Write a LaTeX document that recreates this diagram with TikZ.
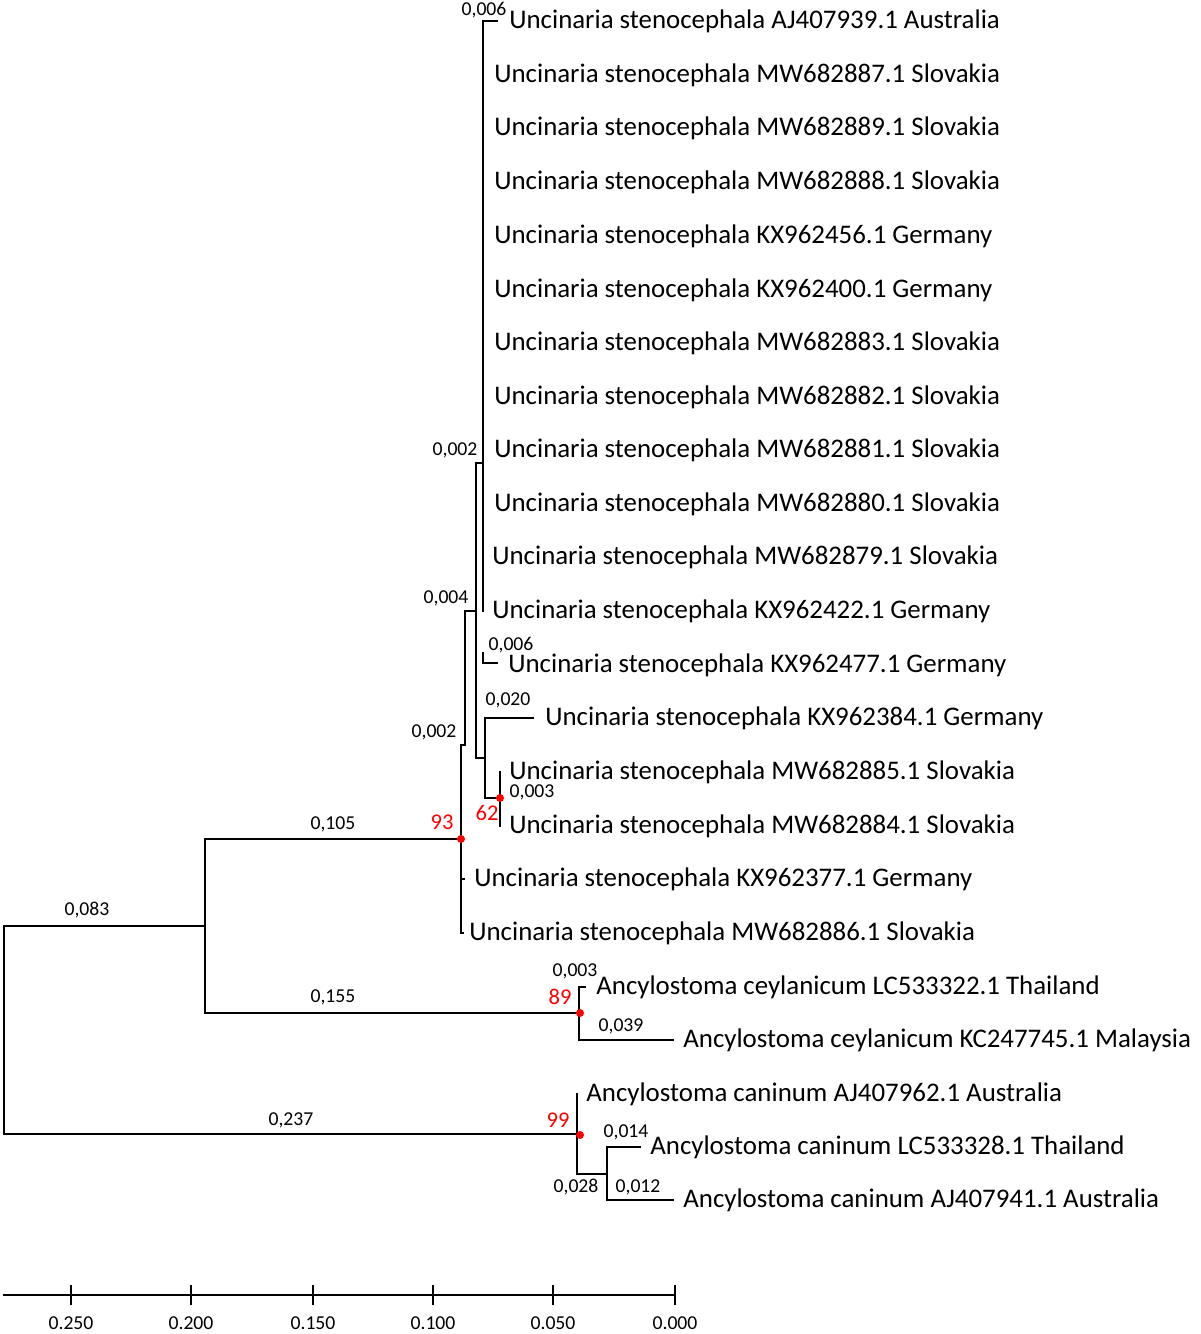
\documentclass[tikz,border=0pt]{standalone}
\usepackage{fontspec}
\setmainfont{Carlito}

\begin{document}
\begin{tikzpicture}[x=0.02cm, y=-0.02cm]
        % Define styles
        \tikzset{
            branch/.style={line width=0.8pt, line cap=rect},
            leaf/.style={anchor=west, inner sep=0pt, font=\fontsize{15.3}{18}\selectfont},
            blen/.style={inner sep=0pt, font=\fontsize{11.2}{13}\selectfont},
            boot/.style={inner sep=0pt, text=red, font=\fontsize{12.8}{15}\selectfont},
            support/.style={circle, fill=red, inner sep=0pt, minimum size=0.16cm},
            axis/.style={line width=1.1pt},
            tick/.style={line width=0.8pt}
        }
        \useasboundingbox (0,0) rectangle (1200,1334);

        % Internal nodes
        \coordinate (root) at (4,1030);
        \coordinate (node_1) at (205,926);
        \coordinate (node_93) at (461,839);
        \coordinate (node_B) at (465,745);
        \coordinate (node_C) at (476,611);
        \coordinate (node_D) at (483,463);
        \coordinate (node_E) at (483,653);
        \coordinate (node_F) at (485,758);
        \coordinate (node_62) at (500,798);
        \coordinate (node_89) at (579,1013);
        \coordinate (node_99) at (577,1134);
        \coordinate (node_028) at (607,1174);

        % Tips
        \coordinate (tip_1) at (497,21);
        \coordinate (tip_2) at (483,75);
        \coordinate (tip_3) at (483,128);
        \coordinate (tip_4) at (483,182);
        \coordinate (tip_5) at (483,236);
        \coordinate (tip_6) at (483,290);
        \coordinate (tip_7) at (483,343);
        \coordinate (tip_8) at (483,397);
        \coordinate (tip_9) at (483,450);
        \coordinate (tip_10) at (483,504);
        \coordinate (tip_11) at (483,557);
        \coordinate (tip_12) at (483,611);
        \coordinate (tip_13) at (497,663);
        \coordinate (tip_14) at (533,718);
        \coordinate (tip_15) at (500,772);
        \coordinate (tip_16) at (500,826);
        \coordinate (tip_17) at (464,879);
        \coordinate (tip_18) at (463,933);
        \coordinate (tip_19) at (585,987);
        \coordinate (tip_20) at (673,1040);
        \coordinate (tip_21) at (577,1094);
        \coordinate (tip_22) at (640,1147);
        \coordinate (tip_23) at (673,1200);

        % Leaves
        \node[leaf] (leaf_node_1) at (509,21) {Uncinaria stenocephala AJ407939.1 Australia};
        \node[leaf] (leaf_node_2) at (494,75) {Uncinaria stenocephala MW682887.1 Slovakia};
        \node[leaf] (leaf_node_3) at (494,128) {Uncinaria stenocephala MW682889.1 Slovakia};
        \node[leaf] (leaf_node_4) at (494,182) {Uncinaria stenocephala MW682888.1 Slovakia};
        \node[leaf] (leaf_node_5) at (494,236) {Uncinaria stenocephala KX962456.1 Germany};
        \node[leaf] (leaf_node_6) at (494,290) {Uncinaria stenocephala KX962400.1 Germany};
        \node[leaf] (leaf_node_7) at (494,343) {Uncinaria stenocephala MW682883.1 Slovakia};
        \node[leaf] (leaf_node_8) at (494,397) {Uncinaria stenocephala MW682882.1 Slovakia};
        \node[leaf] (leaf_node_9) at (494,450) {Uncinaria stenocephala MW682881.1 Slovakia};
        \node[leaf] (leaf_node_10) at (494,504) {Uncinaria stenocephala MW682880.1 Slovakia};
        \node[leaf] (leaf_node_11) at (492,557) {Uncinaria stenocephala MW682879.1 Slovakia};
        \node[leaf] (leaf_node_12) at (492,611) {Uncinaria stenocephala KX962422.1 Germany};
        \node[leaf] (leaf_node_13) at (508,665) {Uncinaria stenocephala KX962477.1 Germany};
        \node[leaf] (leaf_node_14) at (545,718) {Uncinaria stenocephala KX962384.1 Germany};
        \node[leaf] (leaf_node_15) at (509,772) {Uncinaria stenocephala MW682885.1 Slovakia};
        \node[leaf] (leaf_node_16) at (509,826) {Uncinaria stenocephala MW682884.1 Slovakia};
        \node[leaf] (leaf_node_17) at (474,879) {Uncinaria stenocephala KX962377.1 Germany};
        \node[leaf] (leaf_node_18) at (469,933) {Uncinaria stenocephala MW682886.1 Slovakia};
        \node[leaf] (leaf_node_19) at (596,987) {Ancylostoma ceylanicum LC533322.1 Thailand};
        \node[leaf] (leaf_node_20) at (683,1040) {Ancylostoma ceylanicum KC247745.1 Malaysia};
        \node[leaf] (leaf_node_21) at (586,1094) {Ancylostoma caninum AJ407962.1 Australia};
        \node[leaf] (leaf_node_22) at (650,1147) {Ancylostoma caninum LC533328.1 Thailand};
        \node[leaf] (leaf_node_23) at (683,1200) {Ancylostoma caninum AJ407941.1 Australia};

        % Branches
        \draw[branch] (root) |- (node_1);
        \draw[branch] (root) |- (node_99);
        \draw[branch] (node_1) |- (node_93);
        \draw[branch] (node_1) |- (node_89);
        \draw[branch] (node_93) |- (node_B);
        \draw[branch] (node_93) |- (tip_17);
        \draw[branch] (node_93) |- (tip_18);
        \draw[branch] (node_B) |- (node_C);
        \draw[branch] (node_C) |- (node_D);
        \draw[branch] (node_C) |- (node_F);
        \draw[branch] (node_E) |- (tip_13);
        \draw[branch] (node_D) |- (tip_1);
        \draw[branch] (node_D) |- (tip_12);
        \draw[branch] (node_F) |- (tip_14);
        \draw[branch] (node_F) |- (node_62);
        \draw[branch] (node_62) |- (tip_15);
        \draw[branch] (node_62) |- (tip_16);
        \draw[branch] (node_89) |- (tip_19);
        \draw[branch] (node_89) |- (tip_20);
        \draw[branch] (node_99) |- (tip_21);
        \draw[branch] (node_99) |- (node_028);
        \draw[branch] (node_028) |- (tip_22);
        \draw[branch] (node_028) |- (tip_23);

        % Branch lengths
        \node[blen] (len_1) at (484,10) {0,006};
        \node[blen] (len_2) at (455,450) {0,002};
        \node[blen] (len_3) at (446,598) {0,004};
        \node[blen] (len_4) at (511,645) {0,006};
        \node[blen] (len_5) at (508,700) {0,020};
        \node[blen] (len_6) at (434,732) {0,002};
        \node[blen] (len_7) at (532,792) {0,003};
        \node[blen] (len_8) at (333,824) {0,105};
        \node[blen] (len_9) at (87,910) {0,083};
        \node[blen] (len_10) at (575,971) {0,003};
        \node[blen] (len_11) at (333,997) {0,155};
        \node[blen] (len_12) at (621,1026) {0,039};
        \node[blen] (len_13) at (291,1120) {0,237};
        \node[blen] (len_14) at (626,1132) {0,014};
        \node[blen] (len_15) at (576,1187) {0,028};
        \node[blen] (len_16) at (638,1187) {0,012};

        % Bootstrap support
        \node[support] (dot_93) at (node_93) {};
        \node[support] (dot_62) at (node_62) {};
        \node[support] (dot_89) at (580,1013) {};
        \node[support] (dot_99) at (580,1135) {};
        \node[boot] (boot_93) at (442,822) {93};
        \node[boot] (boot_62) at (487,813) {62};
        \node[boot] (boot_89) at (560,997) {89};
        \node[boot] (boot_99) at (558,1120) {99};

        % Scale axis
        \coordinate (axis_left) at (3,1295);
        \coordinate (axis_right) at (675,1295);
        \draw[axis] (axis_left) -- (axis_right);
        \draw[tick] (71,1285) -- (71,1305);
        \draw[tick] (191,1285) -- (191,1305);
        \draw[tick] (313,1285) -- (313,1305);
        \draw[tick] (433,1285) -- (433,1305);
        \draw[tick] (553,1285) -- (553,1305);
        \draw[tick] (675,1285) -- (675,1305);
        \node[blen] (scale_1) at (71,1323) {0.250};
        \node[blen] (scale_2) at (191,1323) {0.200};
        \node[blen] (scale_3) at (313,1323) {0.150};
        \node[blen] (scale_4) at (433,1323) {0.100};
        \node[blen] (scale_5) at (553,1323) {0.050};
        \node[blen] (scale_6) at (675,1323) {0.000};
    \end{tikzpicture}
\end{document}
